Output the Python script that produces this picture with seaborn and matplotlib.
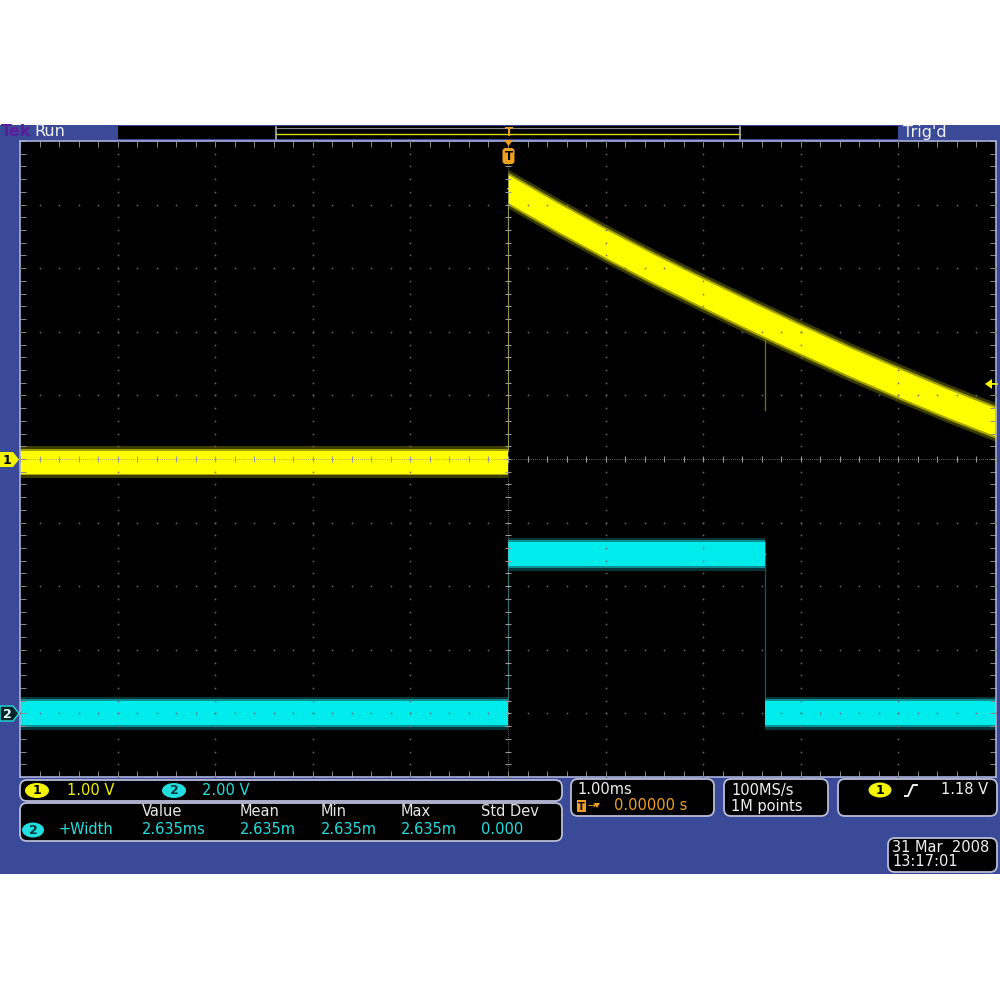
import numpy as np
import matplotlib
matplotlib.use("Agg")
import matplotlib.pyplot as plt
from matplotlib.patches import FancyBboxPatch, Ellipse, Polygon, Rectangle
from matplotlib.lines import Line2D
import seaborn as sns

# ---------------- data ----------------
time_per_div_ms = 1.0
ch1_volts_per_div = 1.0
ch2_volts_per_div = 2.0
ch1_offset_div = 0.0
ch2_offset_div = -4.0
trigger_level_v = 1.18

ch1_pre_t = [-5.0, 0.0]
ch1_pre_v = [-0.05, -0.05]
ch1_post_t = [0.0, 0.5, 1.0, 1.5, 2.0, 2.5, 3.0, 3.5, 4.0, 4.5, 5.0]
ch1_post_v = [4.25, 3.81, 3.39, 2.99, 2.61, 2.24, 1.88, 1.53, 1.20, 0.88, 0.58]
ch1_glitch_v = [0.77, 1.87]

pulse_width_ms = 2.635
ch2_low_v = 0.0
ch2_high_v = 5.0
ch2_t = [-5.0, 0.0, 0.0, pulse_width_ms, pulse_width_ms, 5.0]
ch2_v = [ch2_low_v, ch2_low_v, ch2_high_v, ch2_high_v, ch2_low_v, ch2_low_v]

meas_headers = ["Value", "Mean", "Min", "Max", "Std Dev"]
meas_values = ["2.635ms", "2.635m", "2.635m", "2.635m", "0.000"]

# ---------------- styling ----------------
BLUE = "#3b4a98"
BORDER = "#b8bcd4"
YEL = "#f2f200"
CYAN = "#22dede"
ORANGE = "#f0a020"
FONT = "DejaVu Sans"

fig = plt.figure(figsize=(10, 10), dpi=100)
fig.patch.set_facecolor("white")


def fx(x):
    return x / 1000.0


def fy(y):
    return 1.0 - y / 1000.0


def rect(x0, y0, x1, y1, fc, z=1, ec="none", lw=0):
    fig.add_artist(Rectangle((fx(x0), fy(y1)), (x1 - x0) / 1000, (y1 - y0) / 1000,
                             transform=fig.transFigure, fc=fc, ec=ec, lw=lw, zorder=z))


def box(x0, y0, x1, y1, fc="black", ec=BORDER, lw=1.3, r=7):
    fig.add_artist(FancyBboxPatch((fx(x0), fy(y1)), (x1 - x0) / 1000, (y1 - y0) / 1000,
                                  boxstyle=f"round,pad=0,rounding_size={r/1000}",
                                  transform=fig.transFigure, fc=fc, ec=ec, lw=lw, zorder=2))


def txt(x, y, s, color="#f0f0f0", size=10.5, ha="left", z=5, **kw):
    fig.text(fx(x), fy(y), s, color=color, fontsize=size, ha=ha, va="center",
             family=FONT, zorder=z, **kw)


def badge(cx, cy, label, fc, tc="black", w=24, h=15):
    fig.add_artist(Ellipse((fx(cx), fy(cy)), w / 1000, h / 1000,
                           transform=fig.transFigure, fc=fc, ec="none", zorder=3))
    txt(cx, cy + 0.5, label, color=tc, size=9, ha="center", weight="bold", z=4)


def poly(pts, fc, ec="none", z=6, lw=1):
    fig.add_artist(Polygon([(fx(a), fy(b)) for a, b in pts], closed=True,
                           transform=fig.transFigure, fc=fc, ec=ec, lw=lw, zorder=z))


# blue instrument background
rect(0, 125, 1000, 874, BLUE, z=-1)

# ---------------- graticule axes ----------------
ax = fig.add_axes([fx(20), fy(777), 976 / 1000, 636 / 1000])
ax.set_facecolor("black")
ax.set_xlim(-5, 5)
ax.set_ylim(-5, 5)
for s in ax.spines.values():
    s.set_color("#a9b0d8")
    s.set_linewidth(1.2)
ax.set_xticks(np.arange(-5, 5.01, 0.2))
ax.set_yticks(np.arange(-5, 5.01, 0.2))
ax.tick_params(direction="in", length=4, width=0.7, color="#8a8a8a",
               top=True, right=True, labelbottom=False, labelleft=False)

# convert to screen divisions
ch1_pre_d = np.array(ch1_pre_v) / ch1_volts_per_div + ch1_offset_div
ch1_post_d = np.array(ch1_post_v) / ch1_volts_per_div + ch1_offset_div
ch2_d = np.array(ch2_v) / ch2_volts_per_div + ch2_offset_div
t_pre = np.array(ch1_pre_t) / time_per_div_ms
t_post = np.array(ch1_post_t) / time_per_div_ms


def band(t, d, core, glow, mid, hw):
    ax.fill_between(t, d - hw * 1.38, d + hw * 1.38, color=glow, lw=0, zorder=1)
    ax.fill_between(t, d - hw * 1.16, d + hw * 1.16, color=mid, lw=0, zorder=1.1)
    ax.fill_between(t, d - hw, d + hw, color=core, lw=0, zorder=1.2)
    sns.lineplot(x=t, y=d, ax=ax, color=core, linewidth=1.0, estimator=None,
                 sort=False, legend=False, zorder=1.3)


# channel 2 (cyan) pulse: split into flat segments
seg_idx = [(0, 1), (2, 3), (4, 5)]
ch2_t_arr = np.array(ch2_t) / time_per_div_ms
for a, b in seg_idx:
    band(ch2_t_arr[a:b + 1], ch2_d[a:b + 1], "#00ecec", "#06353a", "#0a8f95", 0.19)
for a in (1, 3):
    ax.plot([ch2_t_arr[a], ch2_t_arr[a]], [ch2_d[a] + 0.19, ch2_d[a + 1] - 0.19],
            color="#0f5a60", lw=0.9, zorder=1)

# channel 1 (yellow)
band(t_pre, ch1_pre_d, "#ffff00", "#3c3c00", "#a4a400", 0.18)
band(t_post, ch1_post_d, "#ffff00", "#3c3c00", "#a4a400", 0.22)
ax.plot([0, 0], [ch1_pre_d[-1] + 0.18, ch1_post_d[0] - 0.22], color="#9a9a30", lw=0.8, zorder=1)
ax.plot([pulse_width_ms, pulse_width_ms], ch1_glitch_v, color="#6a6a20", lw=1.0, zorder=1)

# graticule dots and centre lines (drawn over traces like the scope)
dots = np.arange(-5, 5.01, 0.2)
for k in range(-4, 5):
    if k == 0:
        continue
    ax.plot(np.full_like(dots, k), dots, ls="none", marker="s", ms=1.1,
            color="#6c6c6c", mew=0, zorder=3)
    ax.plot(dots, np.full_like(dots, k), ls="none", marker="s", ms=1.1,
            color="#6c6c6c", mew=0, zorder=3)
ax.axhline(0, color="#8c8c8c", lw=0.6, ls=(0, (1, 1.5)), zorder=3)
ax.axvline(0, color="#8c8c8c", lw=0.6, ls=(0, (1, 1.5)), zorder=3)
ax.plot(dots, np.zeros_like(dots), ls="none", marker="|", ms=5, mew=0.8,
        color="#9a9a9a", zorder=3)
ax.plot(np.zeros_like(dots), dots, ls="none", marker="_", ms=5, mew=0.8,
        color="#9a9a9a", zorder=3)
ax.set_xlabel("")
ax.set_ylabel("")

# ---------------- header ----------------
rect(118, 126, 898, 139, "black", z=1)
txt(1, 132, "Tek", color="#5b1c9c", size=11.5, weight="bold")
txt(34, 132, "Run", color="#f0f0f0", size=11.5)
txt(903, 132, "Trig'd", color="#f0f0f0", size=11.5)
fig.add_artist(Line2D([fx(276), fx(740)], [fy(128), fy(128)], transform=fig.transFigure,
                      color="#8a8a8a", lw=0.8, zorder=2))
fig.add_artist(Line2D([fx(276), fx(740)], [fy(133.5), fy(133.5)], transform=fig.transFigure,
                      color="#d8d800", lw=1.0, zorder=2))
for xb in (276, 740):
    fig.add_artist(Line2D([fx(xb), fx(xb)], [fy(127), fy(139)], transform=fig.transFigure,
                          color="#b0b0b0", lw=1.2, zorder=2))
# trigger position markers
txt(508.5, 133, "T", color=ORANGE, size=8.5, ha="center", weight="bold", z=6)
poly([(504, 140), (513, 140), (508.5, 146)], ORANGE)
box(502.5, 148, 514.5, 164, fc=ORANGE, ec="none", r=3)
txt(508.5, 156, "T", color="black", size=8.5, ha="center", weight="bold", z=6)

# channel ground tags on the left
poly([(0, 452), (13, 452), (19, 459.5), (13, 467), (0, 467)], "#f4f400", z=6)
txt(7, 460, "1", color="black", size=9, ha="center", weight="bold", z=7)
poly([(0, 706), (13, 706), (19, 713.5), (13, 721), (0, 721)], "#06262c", ec=CYAN, z=6)
txt(7, 714, "2", color="#e8ffff", size=9, ha="center", weight="bold", z=7)

# trigger level arrow on the right
trig_y = fy(777) + (trigger_level_v / ch1_volts_per_div + 5) / 10 * 636 / 1000
fig.add_artist(Polygon([(fx(985), trig_y), (fx(992), trig_y + 0.005), (fx(992), trig_y - 0.005)],
                       closed=True, transform=fig.transFigure, fc="#f4f400", ec="none", zorder=6))
fig.add_artist(Line2D([fx(991), fx(997)], [trig_y, trig_y], transform=fig.transFigure,
                      color="#f4f400", lw=1.2, zorder=6))

# ---------------- bottom readouts ----------------
box(20, 780, 562, 801)
badge(37, 790.5, "1", "#f4f400")
txt(67, 790.5, "1.00 V", color=YEL)
badge(174, 790.5, "2", "#22dede", tc="#05383c")
txt(202, 790.5, "2.00 V", color=CYAN)

box(20, 803, 562, 841)
header_x = [142, 240, 321, 401, 481]
for hx, h in zip(header_x, meas_headers):
    txt(hx, 812, h, color="#e6e6e6")
badge(33, 830, "2", "#22dede", tc="#05383c", w=22)
txt(58, 830, "+Width", color=CYAN)
for hx, v in zip(header_x, meas_values):
    txt(hx, 830, v, color=CYAN)

box(571, 779, 714, 816)
txt(577, 790, "1.00ms")
rect(577, 800, 586, 812, ORANGE, z=4)
txt(581.5, 806.5, "T", color="black", size=7, ha="center", weight="bold", z=6)
txt(587, 806, "\u2192", color=ORANGE, size=7)
poly([(594, 803), (600, 803), (597, 808)], ORANGE)
txt(614, 806, "0.00000 s", color=ORANGE)

box(724, 779, 828, 816)
txt(731, 790, "100MS/s")
txt(731, 806, "1M points")

box(838, 779, 997, 816)
badge(880, 790, "1", "#f4f400", w=23)
fig.add_artist(Line2D([fx(905), fx(908), fx(913), fx(917)],
                      [fy(796), fy(796), fy(785), fy(785)], transform=fig.transFigure,
                      color="#f0f0f0", lw=1.4, zorder=5))
txt(941, 790, "1.18 V")

box(888, 838, 997, 872)
txt(892, 848, "31 Mar  2008")
txt(892, 862, "13:17:01")

fig.savefig("out.png", dpi=100, facecolor="white")
